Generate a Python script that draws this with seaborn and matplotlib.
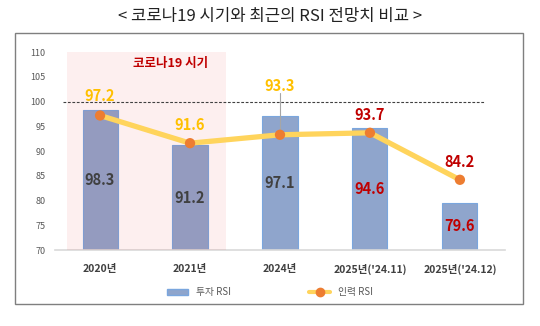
import numpy as np
import pandas as pd
import matplotlib
matplotlib.use("Agg")
import matplotlib.pyplot as plt
import seaborn as sns
from matplotlib.patches import Rectangle
from matplotlib.lines import Line2D
from matplotlib.patches import Patch

categories = ["2020년", "2021년", "2024년", "2025년('24.11)", "2025년('24.12)"]
invest_rsi = [98.3, 91.2, 97.1, 94.6, 79.6]
labor_rsi = [97.2, 91.6, 93.3, 93.7, 84.2]
y_ticks = [70, 75, 80, 85, 90, 95, 100, 105, 110]

sns.set_theme(style="white")
plt.rcParams['font.family'] = ['Noto Sans CJK KR', 'DejaVu Sans']

fig = plt.figure(figsize=(5.4, 3.26), dpi=100)
ax = fig.add_axes([0.102, 0.233, 0.833, 0.607])

df = pd.DataFrame({"cat": categories, "invest": invest_rsi, "labor": labor_rsi})

sns.barplot(data=df, x="cat", y="invest", ax=ax, color="#8FA5CC", width=0.39,
            edgecolor="#7AA6DE", linewidth=0.8, saturation=1, zorder=2)
# bars are drawn from the baseline 70
for p, v in zip(ax.patches, invest_rsi):
    p.set_y(70)
    p.set_height(v - 70)

# pink covid period overlay
ax.add_patch(Rectangle((-0.37, 70), 1.77, 40.4, facecolor=(225/255, 16/255, 16/255),
                       alpha=0.067, edgecolor="none", zorder=3))
ax.text(0.78, 107.7, "코로나19 시기", color="#C00000", fontsize=9, fontweight="bold",
        ha="center", va="center", zorder=6)

# dashed 100 reference
ax.plot([-0.41, 4.28], [100, 100], color="#404040", linestyle=(0, (2.5, 1.5)), linewidth=0.8, zorder=4)

xpos = np.arange(len(categories))
sns.lineplot(x=xpos, y=labor_rsi, ax=ax, color="#FFD45C", linewidth=3.8, zorder=5,
             sort=False, legend=False)
ax.scatter(xpos, labor_rsi, s=55, color="#ED7D31", zorder=6, edgecolors="none")

# labels for line values
line_colors = ["#FFC000", "#FFC000", "#FFC000", "#C00000", "#C00000"]
offsets = [3.9, 3.6, 9.9, 3.6, 3.5]
for x, v, c, o in zip(xpos, labor_rsi, line_colors, offsets):
    ax.text(x, v + o, f"{v:.1f}", color=c, fontsize=10.5, fontweight="bold",
            ha="center", va="center", zorder=7)
# leader line for 93.3
ax.plot([2, 2], [labor_rsi[2] + 0.5, labor_rsi[2] + 8.5], color="#A6A6A6", linewidth=0.8, zorder=4)

# labels inside bars
bar_colors = ["#404040", "#404040", "#404040", "#C00000", "#C00000"]
for x, v, c in zip(xpos, invest_rsi, bar_colors):
    ax.text(x, (70 + v) / 2, f"{v:.1f}", color=c, fontsize=10.5, fontweight="bold",
            ha="center", va="center", zorder=7)

ax.set_xlim(-0.5, 4.5)
ax.set_ylim(70, 110)
ax.set_yticks(y_ticks)
ax.set_yticklabels([str(t) for t in y_ticks], color="#595959", fontsize=6.5)
ax.set_xticks(xpos)
ax.set_xticklabels(categories, color="#404040", fontsize=7.5, fontweight="bold")
ax.tick_params(axis="x", length=0, pad=10)
ax.tick_params(axis="y", length=0, pad=7)
ax.set_xlabel("")
ax.set_ylabel("")
for s in ["top", "right", "left"]:
    ax.spines[s].set_visible(False)
ax.spines["bottom"].set_color("#D9D9D9")
ax.spines["bottom"].set_linewidth(1.2)
ax.grid(False)

# legend
handles = [Patch(facecolor="#8FA5CC", edgecolor="#7AA6DE", label="투자 RSI"),
           Line2D([0], [0], color="#FFD45C", linewidth=3, marker="o", markersize=6,
                  markerfacecolor="#ED7D31", markeredgecolor="#ED7D31", label="인력 RSI")]
fig.legend(handles=handles, loc="center", bbox_to_anchor=(0.5, 0.103), ncol=2,
           frameon=False, fontsize=7, columnspacing=8, handlelength=2.2,
           labelcolor="#595959", handleheight=0.5)

# outer frame
fig.add_artist(Rectangle((15/540, 1 - 304/326), 508/540, 271/326, transform=fig.transFigure,
                         fill=False, edgecolor="#7F7F7F", linewidth=1.0))

fig.text(0.5, 1 - 16/326, "< 코로나19 시기와 최근의 RSI 전망치 비교 >", ha="center", va="center",
         fontsize=12, color="#222222")

fig.savefig("out.png", dpi=100)
